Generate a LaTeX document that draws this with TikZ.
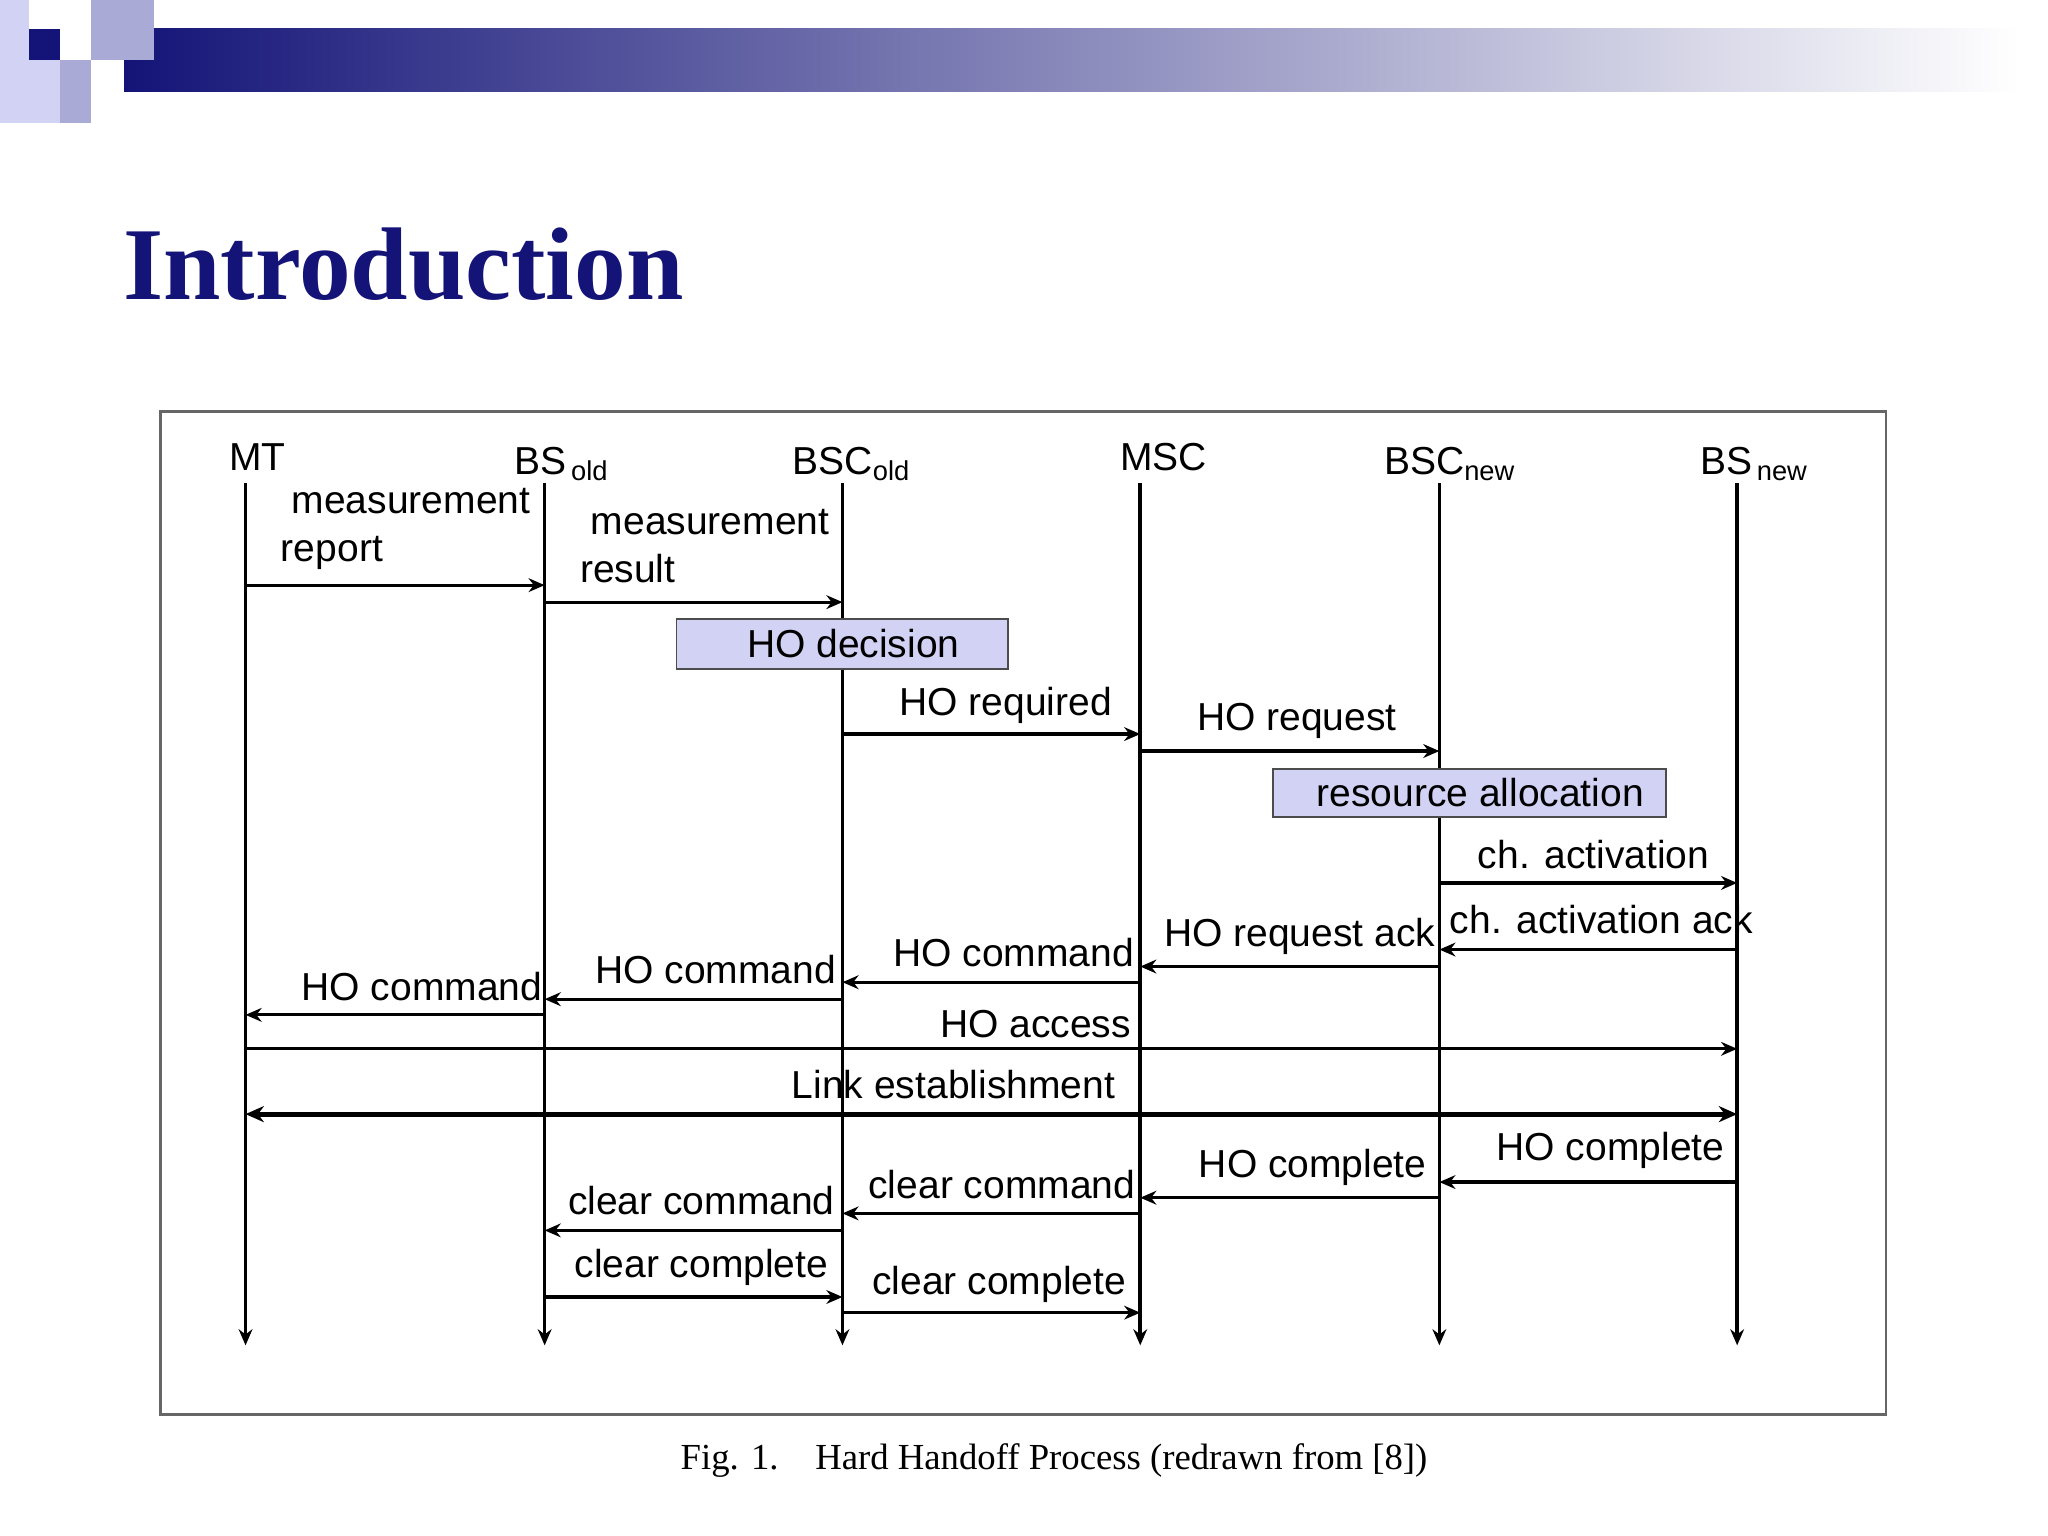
\documentclass[tikz,border=0pt]{standalone}
\usepackage{fontspec}
\setmainfont{Liberation Serif}
\newfontfamily\dsans{Liberation Sans}
\usetikzlibrary{arrows.meta}
\definecolor{navy}{RGB}{20,20,120}
\definecolor{lav}{RGB}{210,210,245}
\definecolor{sq}{RGB}{170,170,215}
\begin{document}
\begin{tikzpicture}[x=0.02cm,y=-0.02cm,
  life/.style={line width=1.6pt,-{Stealth[length=7pt,width=6pt]}},
  msg/.style={line width=1.4pt,-{Stealth[length=7pt,width=6pt]}},
  lbl/.style={font=\dsans\fontsize{17}{21}\selectfont,inner sep=1pt},
  box/.style={draw=black!70,fill=lav,line width=0.8pt,font=\dsans\fontsize{17}{18}\selectfont}]
\useasboundingbox (0,0) rectangle (1568,1176);
% header
\shade[left color=navy,right color=white] (95,22) rectangle (1545,70);
\fill[sq] (70,0) rectangle (118,46);
\fill[lav] (0,0) rectangle (22,94);
\fill[lav] (22,46) rectangle (46,94);
\fill[sq] (46,46) rectangle (70,94);
\fill[navy] (22,22) rectangle (46,46);
\node[anchor=west,text=navy,font=\bfseries\fontsize{45}{48}\selectfont] (title) at (88,202) {Introduction};
% frame
\draw[black!60,line width=1.2pt] (123,315) rectangle (1444,1083);
% lifelines
\foreach \n/\x in {mt/188,bso/417,bsco/645,msc/873,bscn/1102,bsn/1330}{
  \coordinate (\n) at (\x,370); \coordinate (\n e) at (\x,1030);
  \draw[life] (\n) -- (\n e);}
\node[lbl] (Lmt) at (197,350) {MT};
\node[lbl] (Lbso) at (430,355) {BS\textsubscript{\,old}};
\node[lbl] (Lbsco) at (652,355) {BSC\textsubscript{old}};
\node[lbl] (Lmsc) at (891,350) {MSC};
\node[lbl] (Lbscn) at (1110,355) {BSC\textsubscript{new}};
\node[lbl] (Lbsn) at (1343,355) {BS\textsubscript{\,new}};
% messages
\newcommand\mymsg[3]{\draw[msg] (#1,#3) -- (#2,#3);}
\mymsg{188}{417}{448}
\node[lbl,anchor=west,align=left] (t1) at (213,405) {\ measurement\\report};
\mymsg{417}{645}{461}
\node[lbl,anchor=west,align=left] (t2) at (442,418) {\ measurement\\result};
\node[box,minimum width=254*0.02cm,minimum height=38*0.02cm] (hod) at (645,493) {\ \ HO decision};
\mymsg{645}{873}{562}
\node[lbl] (t3) at (770,540) {HO required};
\mymsg{873}{1102}{575}
\node[lbl] (t4) at (993,552) {HO request};
\node[box,minimum width=301*0.02cm,minimum height=37*0.02cm] (ra) at (1125,607) {\ \ resource allocation};
\mymsg{1102}{1330}{676}
\node[lbl] (t5) at (1220,654) {ch. activation};
\mymsg{1330}{1102}{727}
\node[lbl] (t6) at (1226,704) {ch. activation ack};
\mymsg{1102}{873}{740}
\node[lbl] (t7) at (995,717) {HO request ack};
\mymsg{873}{645}{752}
\node[lbl] (t8) at (776,729) {HO command};
\mymsg{645}{417}{765}
\node[lbl] (t9) at (548,742) {HO command};
\mymsg{417}{188}{777}
\node[lbl] (t10) at (323,755) {HO command};
\mymsg{188}{1330}{803}
\node[lbl,anchor=east] (t11) at (868,784) {HO access};
\draw[line width=2.2pt,{Stealth[length=8pt,width=7pt]}-{Stealth[length=8pt,width=7pt]}] (188,853) -- (1330,853);
\node[lbl] (t12) at (730,830) {Link establishment};
\mymsg{1330}{1102}{905}
\node[lbl] (t13) at (1233,881) {HO complete};
\mymsg{1102}{873}{917}
\node[lbl] (t14) at (1005,894) {HO complete};
\mymsg{873}{645}{929}
\node[lbl] (t15) at (767,907) {clear command};
\mymsg{645}{417}{942}
\node[lbl] (t16) at (537,919) {clear command};
\mymsg{417}{645}{993}
\node[lbl] (t17) at (537,970) {clear complete};
\mymsg{645}{873}{1005}
\node[lbl] (t18) at (765,983) {clear complete};
\node[font=\fontsize{16}{17}\selectfont] (cap) at (807,1118) {Fig. 1.\quad Hard Handoff Process (redrawn from [8])};
\end{tikzpicture}
\end{document}
